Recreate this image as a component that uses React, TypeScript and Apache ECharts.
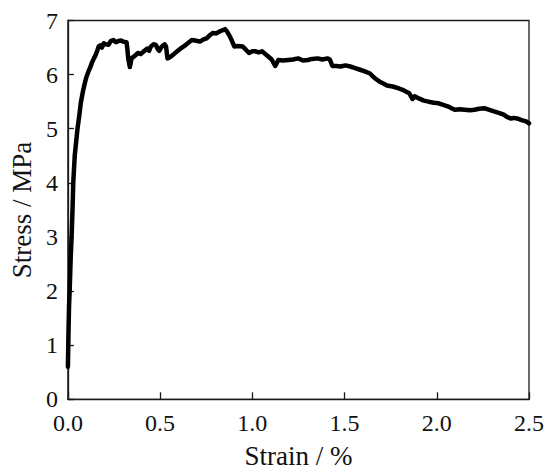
import React, { useEffect, useRef } from "react";
import * as echarts from "echarts";

const strain: number[] = [
  0.0, 0.003, 0.006, 0.01, 0.015, 0.02, 0.025, 0.029, 0.037, 0.052, 0.062, 0.07, 0.082, 0.093, 0.1,
  0.114, 0.123, 0.13, 0.141, 0.15, 0.16, 0.167, 0.176, 0.185, 0.194, 0.205, 0.22, 0.232, 0.247,
  0.26, 0.274, 0.288, 0.3, 0.318, 0.323, 0.327, 0.336, 0.345, 0.36, 0.38, 0.395, 0.415, 0.43, 0.44,
  0.45, 0.465, 0.477, 0.487, 0.495, 0.505, 0.513, 0.525, 0.532, 0.54, 0.557, 0.575, 0.592, 0.61,
  0.628, 0.65, 0.672, 0.69, 0.716, 0.735, 0.752, 0.77, 0.787, 0.805, 0.823, 0.84, 0.852, 0.862,
  0.876, 0.89, 0.902, 0.92, 0.947, 0.965, 0.982, 1.0, 1.018, 1.035, 1.053, 1.07, 1.088, 1.105,
  1.124, 1.141, 1.165, 1.195, 1.22, 1.248, 1.275, 1.3, 1.325, 1.354, 1.38, 1.407, 1.42, 1.434,
  1.455, 1.478, 1.505, 1.531, 1.558, 1.584, 1.61, 1.638, 1.655, 1.67, 1.69, 1.708, 1.73, 1.761,
  1.79, 1.815, 1.835, 1.85, 1.868, 1.88, 1.903, 1.93, 1.956, 1.985, 2.01, 2.035, 2.063, 2.08,
  2.098, 2.125, 2.15, 2.18, 2.204, 2.23, 2.257, 2.285, 2.31, 2.34, 2.363, 2.38, 2.4, 2.418, 2.435,
  2.46, 2.488, 2.5,
];

const stress: number[] = [
  0.6, 1.2, 1.7, 2.05, 2.6, 3.0, 3.5, 4.0, 4.5, 5.0, 5.25, 5.48, 5.7, 5.86, 5.95,
  6.08, 6.15, 6.22, 6.3, 6.36, 6.45, 6.52, 6.54, 6.5, 6.58, 6.56, 6.55, 6.62, 6.64,
  6.6, 6.62, 6.63, 6.61, 6.6, 6.45, 6.3, 6.14, 6.3, 6.34, 6.4, 6.38, 6.44, 6.48, 6.44,
  6.52, 6.56, 6.55, 6.47, 6.44, 6.5, 6.53, 6.56, 6.52, 6.3, 6.33, 6.38, 6.43, 6.48,
  6.52, 6.58, 6.64, 6.63, 6.61, 6.65, 6.67, 6.73, 6.77, 6.76, 6.8, 6.82, 6.84, 6.8,
  6.72, 6.62, 6.52, 6.53, 6.52, 6.46, 6.4, 6.43, 6.43, 6.41, 6.43, 6.38, 6.33, 6.28,
  6.16, 6.27, 6.26, 6.27, 6.28, 6.3, 6.26, 6.27, 6.29, 6.3, 6.28, 6.3, 6.28, 6.16,
  6.16, 6.15, 6.17, 6.15, 6.12, 6.09, 6.06, 6.02, 5.96, 5.92, 5.87, 5.84, 5.8, 5.78,
  5.75, 5.72, 5.68, 5.66, 5.55, 5.6, 5.56, 5.52, 5.5, 5.48, 5.47, 5.44, 5.41, 5.38,
  5.35, 5.36, 5.35, 5.34, 5.35, 5.37, 5.38, 5.35, 5.32, 5.29, 5.26, 5.22, 5.19, 5.2, 5.19,
  5.16, 5.13, 5.1,
];

const xTicks: number[] = [0, 0.5, 1.0, 1.5, 2.0, 2.5];
const yTicks: number[] = [0, 1, 2, 3, 4, 5, 6, 7];

const FONT = "Liberation Serif";

export default function App() {
  const ref = useRef<HTMLDivElement>(null);

  useEffect(() => {
    if (!ref.current) return;
    const chart = echarts.init(ref.current, undefined, { renderer: "svg" });
    const data = strain.map((s, i) => [s, stress[i]]);
    chart.setOption({
      animation: false,
      backgroundColor: "#ffffff",
      textStyle: { fontFamily: FONT },
      grid: {
        left: 58.5,
        right: 21,
        top: 20.5,
        bottom: 75.7,
        show: true,
        borderColor: "#1a1a1a",
        borderWidth: 1.3,
        backgroundColor: "transparent",
      },
      xAxis: {
        type: "value",
        min: xTicks[0],
        max: xTicks[xTicks.length - 1],
        interval: 0.5,
        name: "Strain / %",
        nameLocation: "middle",
        nameGap: 43,
        nameTextStyle: { fontFamily: FONT, fontSize: 27, color: "#111" },
        axisLine: { show: true, lineStyle: { color: "#1a1a1a", width: 1.3 } },
        axisTick: { show: true, inside: true, length: 7, lineStyle: { color: "#1a1a1a", width: 1.3 } },
        axisLabel: {
          fontFamily: FONT,
          fontSize: 24,
          color: "#111",
          margin: 12,
          formatter: (v: number) => v.toFixed(1),
        },
        splitLine: { show: false },
      },
      yAxis: {
        type: "value",
        min: yTicks[0],
        max: yTicks[yTicks.length - 1],
        interval: 1,
        name: "Stress / MPa",
        nameLocation: "middle",
        nameGap: 27,
        nameRotate: 90,
        nameTextStyle: { fontFamily: FONT, fontSize: 27, color: "#111" },
        axisLine: { show: true, lineStyle: { color: "#1a1a1a", width: 1.3 } },
        axisTick: { show: true, inside: true, length: 6, lineStyle: { color: "#1a1a1a", width: 1.3 } },
        axisLabel: { fontFamily: FONT, fontSize: 24, color: "#111", margin: 10 },
        splitLine: { show: false },
      },
      series: [
        {
          type: "line",
          data,
          showSymbol: false,
          symbol: "none",
          smooth: false,
          lineStyle: { color: "#000", width: 4.5, join: "round", cap: "round" },
        },
      ],
    });
    return () => chart.dispose();
  }, []);

  return (
    <div
      ref={ref}
      style={{ position: "absolute", left: 0, top: 0, width: 550, height: 475 }}
    />
  );
}
